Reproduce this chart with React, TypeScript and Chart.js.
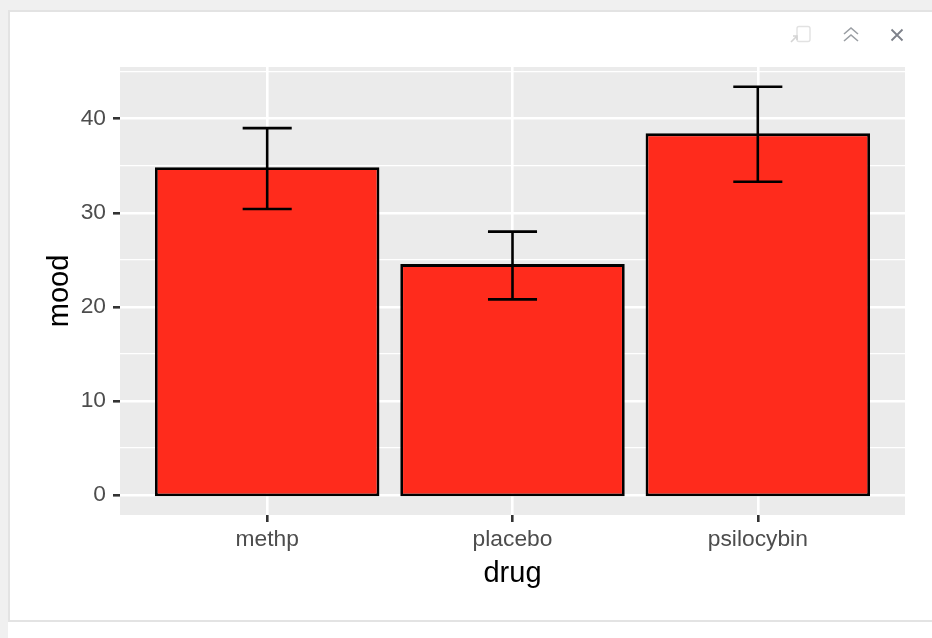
import React, { useEffect, useRef } from "react";
import { Chart, registerables } from "chart.js";

Chart.register(...registerables);

const categories = ["methp", "placebo", "psilocybin"];
const moodMean = [34.85, 24.55, 38.45];
const errorLow = [30.4, 20.8, 33.3];
const errorHigh = [39.0, 28.0, 43.4];
const yTicks = [0, 5, 10, 15, 20, 25, 30, 35, 40, 45];
const yLabels = [0, 10, 20, 30, 40];

const FONT = "'Liberation Sans', Arial, sans-serif";

const panelPlugin = {
  id: "panel",
  beforeDraw(chart: any) {
    const { ctx, chartArea: a } = chart;
    ctx.save();
    ctx.fillStyle = "#ebebeb";
    ctx.fillRect(a.left, a.top, a.right - a.left, a.bottom - a.top);
    ctx.restore();
  },
};

const errorBarPlugin = {
  id: "errorBars",
  afterDatasetsDraw(chart: any) {
    const { ctx, scales } = chart;
    const capHalf = Math.abs(scales.x.getPixelForValue(0.1) - scales.x.getPixelForValue(0));
    ctx.save();
    ctx.strokeStyle = "#000";
    ctx.lineWidth = 2.6;
    categories.forEach((_, i) => {
      const x = scales.x.getPixelForValue(i);
      const lo = scales.y.getPixelForValue(errorLow[i]);
      const hi = scales.y.getPixelForValue(errorHigh[i]);
      ctx.beginPath();
      ctx.moveTo(x, lo);
      ctx.lineTo(x, hi);
      ctx.moveTo(x - capHalf, lo);
      ctx.lineTo(x + capHalf, lo);
      ctx.moveTo(x - capHalf, hi);
      ctx.lineTo(x + capHalf, hi);
      ctx.stroke();
    });
    ctx.restore();
  },
};

export default function App() {
  const ref = useRef<HTMLCanvasElement>(null);
  useEffect(() => {
    const chart = new Chart(ref.current as HTMLCanvasElement, {
      type: "bar",
      data: {
        datasets: [
          {
            label: "mood",
            data: moodMean.map((v, i) => ({ x: i, y: v })),
            backgroundColor: "#ff2b1c",
            borderColor: "#000000",
            borderWidth: 2.8,
            borderSkipped: false,
            base: -0.12,
            barPercentage: 0.915,
            categoryPercentage: 1,
          },
        ],
      },
      options: {
        animation: false,
        responsive: false,
        devicePixelRatio: 1,
        layout: { padding: { left: 43, top: 67, right: 27, bottom: 47 } },
        plugins: { legend: { display: false }, tooltip: { enabled: false } },
        scales: {
          x: {
            type: "linear",
            offset: false,
            min: -0.6,
            max: 2.6,
            afterBuildTicks: (s: any) => {
              s.ticks = categories.map((_, i) => ({ value: i }));
            },
            afterFit: (s: any) => {
              s.height = 76;
            },
            border: { display: false },
            grid: { offset: false, color: "#ffffff", lineWidth: 2.6, tickColor: "#333333", tickLength: 7, tickWidth: 2.6 },
            ticks: {
              autoSkip: false,
              maxRotation: 0,
              padding: 4,
              color: "#4d4d4d",
              font: { family: FONT, size: 22.8 },
              callback: (v: any) => categories[v],
            },
            title: {
              display: true,
              text: "drug",
              color: "#000000",
              padding: 0,
              font: { family: FONT, size: 29 },
            },
          },
          y: {
            type: "linear",
            min: -2.12,
            max: 45.5,
            afterBuildTicks: (s: any) => {
              s.ticks = yTicks.map((v) => ({ value: v }));
            },
            afterFit: (s: any) => {
              s.width = 77;
            },
            border: { display: false },
            grid: {
              color: "#ffffff",
              lineWidth: (c: any) => (yLabels.includes(c.tick?.value) ? 2.6 : 1.2),
              tickColor: (c: any) => (yLabels.includes(c.tick?.value) ? "#333333" : "rgba(0,0,0,0)"),
              tickLength: 7,
              tickWidth: 2.6,
            },
            ticks: {
              autoSkip: false,
              padding: 7,
              color: "#4d4d4d",
              font: { family: FONT, size: 22.8 },
              callback: (v: any) => (yLabels.includes(v) ? String(v) : ""),
            },
            title: {
              display: true,
              text: "mood",
              color: "#000000",
              padding: 0,
              font: { family: FONT, size: 29 },
            },
          },
        },
      },
      plugins: [panelPlugin, errorBarPlugin],
    } as any);
    return () => chart.destroy();
  }, []);

  return (
    <div style={{ position: "fixed", inset: 0, background: "#ffffff", overflow: "hidden" }}>
      <div style={{ position: "absolute", left: 0, top: 0, width: 8, height: 638, background: "#f0f0f0" }} />
      <div style={{ position: "absolute", left: 0, top: 0, width: 932, height: 10, background: "#f0f0f0" }} />
      <div
        style={{
          position: "absolute",
          left: 8,
          top: 10,
          width: 930,
          height: 612,
          boxSizing: "border-box",
          border: "2px solid #e3e3e3",
          background: "#ffffff",
        }}
      />
      <canvas ref={ref} width={932} height={638} style={{ position: "absolute", left: 0, top: 0, display: "block" }} />
      <svg width={932} height={60} style={{ position: "absolute", left: 0, top: 0 }} fill="none">
        <rect x={797} y={26.5} width={13} height={15} rx={2} stroke="#e2e2e2" strokeWidth={1.4} />
        <path d="M791 42l5-5m-3-1h4v4" stroke="#d4d4d4" strokeWidth={1.6} />
        <path d="M844 34l7-6 7 6M844 41l7-6 7 6" stroke="#9a9ea3" strokeWidth={1.6} />
        <path d="M891.5 29.5l11 11m0-11l-11 11" stroke="#7d818a" strokeWidth={1.8} />
      </svg>
    </div>
  );
}
